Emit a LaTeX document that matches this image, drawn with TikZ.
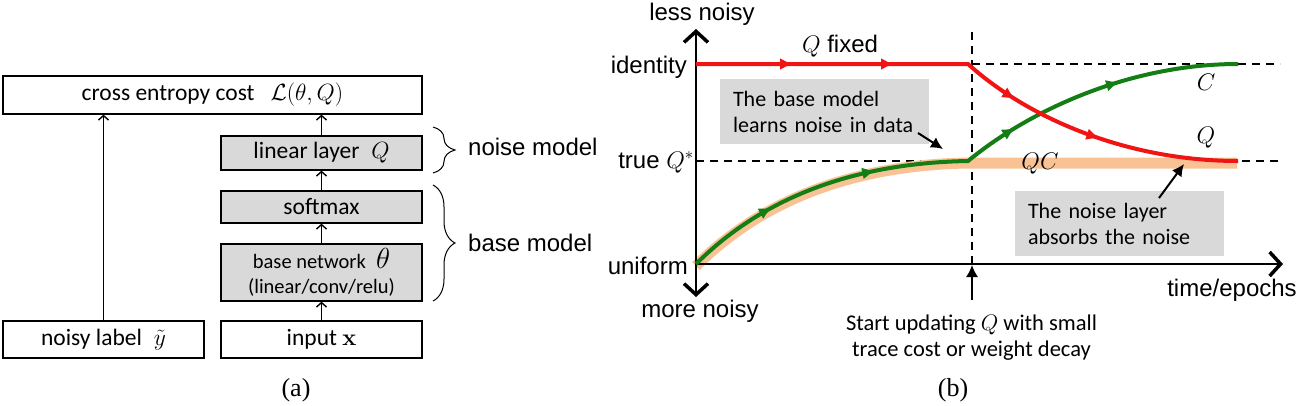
\RequirePackage{fix-cm}
\documentclass[tikz,border=0pt]{standalone}
\usepackage[no-math]{fontspec}
\setmainfont{Carlito}
\newfontfamily\arialf{Liberation Sans}
\newfontfamily\serf{Liberation Serif}
\usetikzlibrary{arrows.meta,decorations.pathreplacing,decorations.markings}
\definecolor{boxgray}{RGB}{217,217,217}
\definecolor{rdc}{RGB}{240,20,20}
\definecolor{grc}{RGB}{20,125,20}
\definecolor{pch}{RGB}{248,194,148}
\begin{document}
\begin{tikzpicture}[x=1pt,y=-1pt,
  box/.style={draw, line width=1.2pt, inner sep=0pt, font=\fontsize{23.5}{26}\selectfont},
  gbox/.style={box, fill=boxgray},
  up/.style={-{Straight Barb[length=4.5pt,width=10pt]}, line width=1.4pt},
  arlbl/.style={font=\arialf\fontsize{24}{28}\selectfont, inner sep=0pt},
  mlbl/.style={font=\fontsize{24}{28}\selectfont, inner sep=0pt},
  cal/.style={font=\fontsize{22.5}{26}\selectfont, inner sep=0pt},
  note/.style={fill=boxgray, inner sep=0pt, minimum width=209pt, minimum height=65pt, text width=183pt, align=left, font=\fontsize{22}{26}\selectfont},
  axtip/.style={line width=2pt},
  dsh/.style={line width=2pt, dash pattern=on 8pt off 6pt},
  ptr/.style={-{Latex[length=12pt,width=12pt]}, line width=2pt},
  brc/.style={decorate, decoration={brace, amplitude=22pt}, line width=1pt},
  captxt/.style={font=\serf\fontsize{26}{28}\selectfont, inner sep=0pt},
  gmk/.style={grc},
  rmk/.style={rdc}
]
\useasboundingbox (0,0) rectangle (1300,405);

% ---------- panel (a) ----------
\node[box, minimum width=419pt, minimum height=38pt] (ce) at (212.5,95) {cross entropy cost\hspace{16pt}$\mathcal{L}(\theta,Q)$};
\node[gbox, minimum width=201pt, minimum height=34pt] (lin) at (321.5,153) {linear layer\enspace $Q$};
\node[gbox, minimum width=201pt, minimum height=32pt] (soft) at (321.5,207) {softmax};
\node[gbox, minimum width=201pt, minimum height=57pt, align=center, font=\fontsize{20.5}{25}\selectfont] (base) at (321.5,272.5) {base network\enspace{\fontsize{29}{25}\selectfont$\theta$}\\(linear/conv/relu)};
\node[box, minimum width=201pt, minimum height=37pt] (inp) at (321.5,339.5) {input $\mathbf{x}$};
\node[box, minimum width=201pt, minimum height=37pt] (noisy) at (103.5,339.5) {noisy label\enspace $\tilde{y}$};

\draw[up] (inp) -- (base);
\draw[up] (base) -- (soft);
\draw[up] (soft) -- (lin);
\draw[up] (lin.north) -- (lin.north |- ce.south);
\draw[up] (noisy.north) -- (noisy.north |- ce.south);

\draw[brc] (433,127) -- (433,173);
\draw[brc] (433,185) -- (433,301);
\node[arlbl, anchor=base west] (nm) at (468,155) {noise model};
\node[arlbl, anchor=base west] (bm) at (468,251) {base model};
\node[captxt, anchor=base] (capa) at (296,396) {(a)};

% ---------- panel (b) ----------
\coordinate (O) at (696,264);
\coordinate (Ytop) at (696,29);
\coordinate (Ybot) at (696,297);
\coordinate (Xend) at (1283,264);

\draw[dsh] (972,32) -- (972,264);
\draw[dsh] (972,64) -- (1280,64);
\draw[dsh] (696,161) -- (1280,161);

\draw[pch, line width=11pt] (696,266) .. controls (760,202) and (850,165) .. (968,163) -- (1237,163);

\draw[axtip, {Straight Barb[length=11pt,width=24pt,line width=3.5pt]}-{Straight Barb[length=11pt,width=24pt,line width=3.5pt]}] (Ybot) -- (Ytop);
\draw[axtip, -{Straight Barb[length=11pt,width=24pt,line width=3.5pt]}] (O) -- (Xend);

\draw[grc, line width=4pt, postaction={decorate}, decoration={markings,
   mark=at position 95pt with {\arrow[gmk]{Latex[length=13pt,width=12pt]}},
   mark=at position 205pt with {\arrow[gmk]{Latex[length=13pt,width=12pt]}},
   mark=at position 356pt with {\arrow[gmk]{Latex[length=13pt,width=12pt]}},
   mark=at position 470pt with {\arrow[gmk]{Latex[length=13pt,width=12pt]}}}]
  (696,264) .. controls (760,200) and (850,163) .. (968,161)
  .. controls (1030,110) and (1130,64) .. (1238,64);

\draw[rdc, line width=4pt, postaction={decorate}, decoration={markings,
   mark=at position 97pt with {\arrow[rmk]{Latex[length=13pt,width=12pt]}},
   mark=at position 198pt with {\arrow[rmk]{Latex[length=13pt,width=12pt]}},
   mark=at position 331pt with {\arrow[rmk]{Latex[length=13pt,width=12pt]}},
   mark=at position 424pt with {\arrow[rmk]{Latex[length=13pt,width=12pt]}}}]
  (696,64) -- (968,64) .. controls (1030,120) and (1130,161) .. (1238,161);

\node[arlbl, anchor=base] (ln) at (702,20) {less noisy};
\node[arlbl, anchor=base] (mn) at (700,317) {more noisy};
\node[arlbl, anchor=base east] (idl) at (687,73) {identity};
\node[arlbl, anchor=base east] (trl) at (694,168) {true $Q^{*}$};
\node[arlbl, anchor=base east] (unl) at (688,274) {uniform};
\node[arlbl, anchor=base] (qf) at (840,52) {$Q$ fixed};
\node[arlbl, anchor=base] (te) at (1232,296) {time/epochs};
\node[mlbl, anchor=base] (cl) at (1206,90) {$C$};
\node[mlbl, anchor=base] (ql) at (1206,143) {$Q$};
\node[mlbl, anchor=base] (qcl) at (1040,169) {$QC$};

\node[note] (n1) at (824.5,111.5) {The base model\\learns noise in data};
\node[note] (n2) at (1119.5,223.5) {The noise layer\\absorbs the noise};
\coordinate (n1a) at (918,133);
\coordinate (c1) at (943,149);
\coordinate (n2a) at (1159,198);
\coordinate (c2) at (1184,164);
\draw[ptr] (n1a) -- (c1);
\draw[ptr] (n2a) -- (c2);

\node[cal, align=center] (su) at (971.5,338) {Start updating $Q$ with small\\trace cost or weight decay};
\coordinate (sub) at (972,300);
\coordinate (sut) at (972,265);
\draw[ptr, line width=1.5pt] (sub) -- (sut);

\node[captxt, anchor=base] (capb) at (953,396) {(b)};
\end{tikzpicture}
\end{document}
